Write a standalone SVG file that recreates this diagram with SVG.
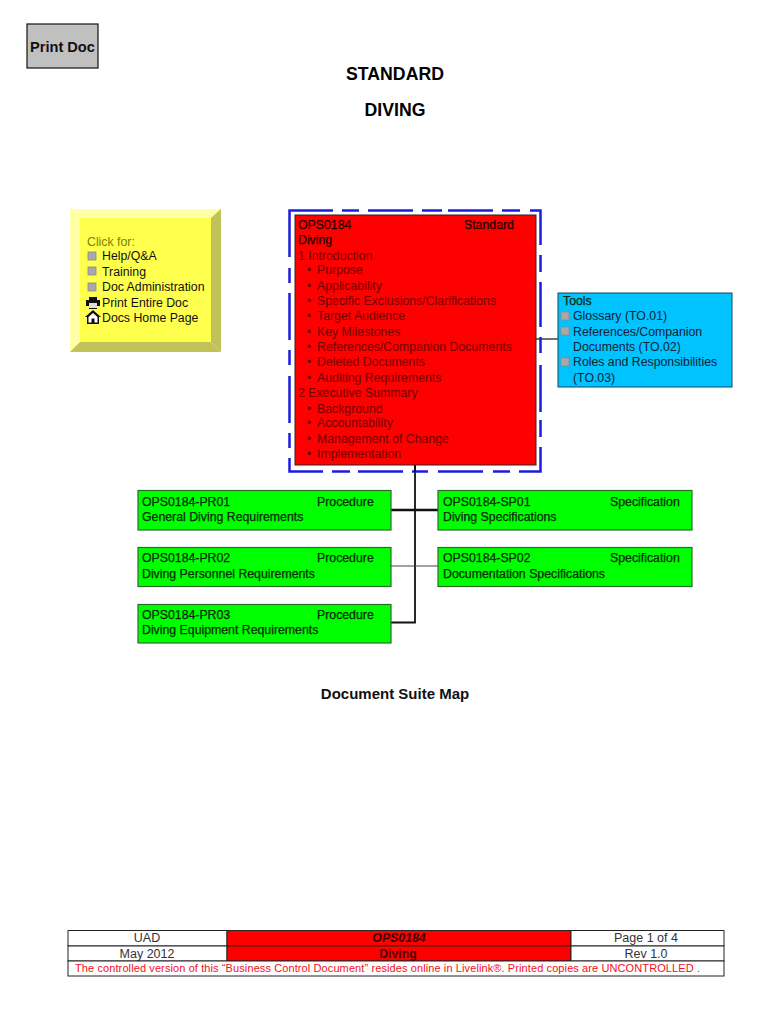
<svg xmlns="http://www.w3.org/2000/svg" width="768" height="1024" viewBox="0 0 768 1024">
<style>
text{font-family:"Liberation Sans",Arial,sans-serif;font-size:12.300px;fill:#111}
.b{font-weight:bold}
.title{font-size:17.700px;font-weight:bold;text-anchor:middle;fill:#000}
.g{fill:#00ff00;stroke:#2a6b2a;stroke-width:1.2}
.gt{fill:#062a06;stroke:#062a06;stroke-width:.25}
.k{fill:#200;stroke:#200;stroke-width:.25}
.r{fill:#7a0000;stroke:#7a0000;stroke-width:.1}
.sq{fill:#a8a8a8;stroke:#8a8a8a;stroke-width:.8}
.cell{fill:#fff;stroke:#222;stroke-width:1}
.red{fill:#ff0000;stroke:#332222;stroke-width:1}
.m{text-anchor:middle;fill:#333;font-size:12.500px}
.conn{stroke:#111;fill:none}
.t{fill:#123}
</style>
<rect width="768" height="1024" fill="#fff"/>
<g id="print-doc"><rect x="27" y="24" width="71" height="44" fill="#c0c0c0" stroke="#111" stroke-width="1.2"/><text x="30" y="52" class="b" style="font-size:14.600px">Print Doc</text></g>
<g id="title"><text x="395" y="80" class="title">STANDARD</text><text x="395" y="116" class="title">DIVING</text></g>
<g id="click-panel">
<rect x="70" y="209" width="151" height="143" fill="#ffff4d"/>
<polygon points="70,209 221,209 211,218 80,218" fill="#ffffa6"/>
<polygon points="70,209 80,218 80,342 70,352" fill="#ffffa6"/>
<polygon points="221,209 221,352 211,342 211,218" fill="#c2c25a"/>
<polygon points="70,352 221,352 211,342 80,342" fill="#c2c25a"/>
<text x="87" y="246" style="fill:#808000">Click for:</text>
<rect x="88" y="252" width="8" height="8" class="sq"/><text x="102" y="260">Help/Q&amp;A</text>
<rect x="88" y="267" width="8" height="8" class="sq"/><text x="102" y="276">Training</text>
<rect x="88" y="283" width="8" height="8" class="sq"/><text x="102" y="291">Doc Administration</text>
<path d="M89 297h8v3h3v6h-3v3h-8v-3h-3v-6h3z" fill="#111"/><rect x="89" y="303" width="8" height="5" fill="#ddd"/>
<text x="102" y="307">Print Entire Doc</text>
<path d="M93 310l-8 7h2v7h12v-7h2z" fill="#111"/><path d="M93 313l-4.500 4v5.500h3v-4h3v4h3v-5.500z" fill="#fff"/>
<text x="102" y="322">Docs Home Page</text>
</g>
<g id="connectors">
<path class="conn" d="M415 465V622.500H391" stroke-width="1.800"/>
<path class="conn" d="M391 510H438" stroke-width="2.500"/>
<path class="conn" d="M391 566H438" stroke-width="1" style="stroke:#444"/>
<path class="conn" d="M536 339H558" stroke-width="1.200"/>
</g>
<g id="standard-node">
<rect x="295" y="215" width="241" height="250" class="red"/>
<path fill="none" stroke="#1c1ce0" stroke-width="2.500" d="M289.500 257V210.500H333M342 210.500H359M368 210.500H413M422 210.500H442M448 210.500H493M502 210.500H520M530 210.500H540.500V245M540.500 255V272M540.500 282V327M540.500 337V353M540.500 365V412M540.500 420V437M540.500 447V471.500H519M510 471.500H493M483 471.500H438M428 471.500H412M403 471.500H358M350 471.500H332M323 471.500H289.500V458M289.500 448V433M289.500 423V376M289.500 365V350M289.500 340V293M289.500 283V268"/>
<path d="M415 465V472" stroke="#111" stroke-width="1.800"/>
<text x="298" y="229" class="k">OPS0184</text><text x="464" y="229" class="k">Standard</text>
<text x="298" y="244" class="k">Diving</text>
<text x="298" y="260" class="r">1 Introduction</text>
<g class="items">
<text x="307" y="274" class="r">•</text><text x="317" y="274" class="r">Purpose</text>
<text x="307" y="290" class="r">•</text><text x="317" y="290" class="r">Applicability</text>
<text x="307" y="305" class="r">•</text><text x="317" y="305" class="r">Specific Exclusions/Clarifications</text>
<text x="307" y="320" class="r">•</text><text x="317" y="320" class="r">Target Audience</text>
<text x="307" y="336" class="r">•</text><text x="317" y="336" class="r">Key Milestones</text>
<text x="307" y="351" class="r">•</text><text x="317" y="351" class="r">References/Companion Documents</text>
<text x="307" y="366" class="r">•</text><text x="317" y="366" class="r">Deleted Documents</text>
<text x="307" y="382" class="r">•</text><text x="317" y="382" class="r">Auditing Requirements</text>
<text x="298" y="397" class="r">2 Executive Summary</text>
<text x="307" y="413" class="r">•</text><text x="317" y="413" class="r">Background</text>
<text x="307" y="427" class="r">•</text><text x="317" y="427" class="r">Accountability</text>
<text x="307" y="443" class="r">•</text><text x="317" y="443" class="r">Management of Change</text>
<text x="307" y="458" class="r">•</text><text x="317" y="458" class="r">Implementation</text>
</g>
</g>
<g id="tools">
<rect x="558" y="293" width="174" height="94" fill="#00c3ff" stroke="#0b4a5e" stroke-width="1"/>
<text x="563" y="305" class="gt">Tools</text>
<rect x="561" y="312" width="8" height="8" class="sq"/><text x="573" y="320" class="t">Glossary (TO.01)</text>
<rect x="561" y="327" width="8" height="8" class="sq"/><text x="573" y="336" class="t">References/Companion</text>
<text x="573" y="351" class="t">Documents (TO.02)</text>
<rect x="561" y="358" width="8" height="8" class="sq"/><text x="573" y="366" class="t">Roles and Responsibilities</text>
<text x="573" y="382" class="t">(TO.03)</text>
</g>
<g id="pr01"><rect x="138" y="490.500" width="253" height="39.500" class="g"/><text x="142" y="506" class="gt">OPS0184-PR01</text><text x="317" y="506" class="gt">Procedure</text><text x="142" y="521" class="gt">General Diving Requirements</text></g>
<g id="pr02"><rect x="138" y="547.500" width="253" height="39" class="g"/><text x="142" y="562" class="gt">OPS0184-PR02</text><text x="317" y="562" class="gt">Procedure</text><text x="142" y="578" class="gt">Diving Personnel Requirements</text></g>
<g id="pr03"><rect x="138" y="604.500" width="253" height="38.500" class="g"/><text x="142" y="619" class="gt">OPS0184-PR03</text><text x="317" y="619" class="gt">Procedure</text><text x="142" y="634" class="gt">Diving Equipment Requirements</text></g>
<g id="sp01"><rect x="438" y="490.500" width="254" height="39.500" class="g"/><text x="443" y="506" class="gt">OPS0184-SP01</text><text x="610" y="506" class="gt">Specification</text><text x="443" y="521" class="gt">Diving Specifications</text></g>
<g id="sp02"><rect x="438" y="547.500" width="254" height="39" class="g"/><text x="443" y="562" class="gt">OPS0184-SP02</text><text x="610" y="562" class="gt">Specification</text><text x="443" y="578" class="gt">Documentation Specifications</text></g>
<text x="395" y="699" class="b" text-anchor="middle" style="font-size:15px">Document Suite Map</text>
<g id="footer">
<rect x="68" y="930.500" width="159" height="15.500" class="cell"/><text x="147" y="942" class="m">UAD</text>
<rect x="68" y="946" width="159" height="15" class="cell"/><text x="147" y="958" class="m">May 2012</text>
<rect x="227" y="930.500" width="344" height="15.500" class="red"/><text x="399" y="942" class="b" text-anchor="middle" font-style="italic" style="fill:#3a0000">OPS0184</text>
<rect x="227" y="946" width="344" height="15" class="red"/><text x="398" y="958" class="b" text-anchor="middle" style="fill:#4a0000">Diving</text>
<rect x="571" y="930.500" width="153" height="15.500" class="cell"/><text x="646" y="942" class="m">Page 1 of 4</text>
<rect x="571" y="946" width="153" height="15" class="cell"/><text x="646" y="958" class="m">Rev 1.0</text>
<rect x="68" y="961" width="656" height="15" class="cell"/>
<text x="75" y="972" style="font-size:11px;fill:#f01020" textLength="625">The controlled version of this “Business Control Document” resides online in Livelink®. Printed copies are UNCONTROLLED .</text>
</g>
</svg>
